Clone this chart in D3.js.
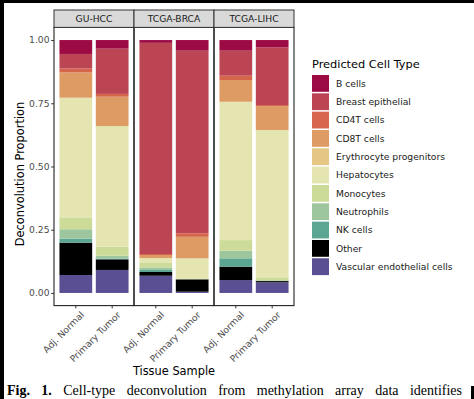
<!DOCTYPE html>
<html>
<head>
<meta charset="utf-8">
<script src="https://cdn.jsdelivr.net/npm/d3@7"></script>
<style>
  html, body { margin: 0; padding: 0; background: #fff; }
  svg { display: block; font-family: "DejaVu Sans", sans-serif; }
</style>
</head>
<body>
<svg id="chart" width="474" height="399"></svg>
<script>
// ---- data ----
const datasets = ["GU-HCC", "TCGA-BRCA", "TCGA-LIHC"];
const samples = ["Adj. Normal", "Primary Tumor"];
const cellTypes = ["B cells", "Breast epithelial", "CD4T cells", "CD8T cells",
  "Erythrocyte progenitors", "Hepatocytes", "Monocytes", "Neutrophils",
  "NK cells", "Other", "Vascular endothelial cells"];
const cellColors = ["#9c0b44", "#bb4553", "#d5654b", "#de9b63", "#e5c685",
  "#e4e5b1", "#cddb98", "#9dc69f", "#5ba693", "#000000", "#5a4f92"];
// order of each value list: GU-HCC Adj, GU-HCC Tumor, BRCA Adj, BRCA Tumor, LIHC Adj, LIHC Tumor
const bCells        = [0.055, 0.034, 0.011, 0.042, 0.042, 0.029];
const breastEpi     = [0.057, 0.179, 0.835, 0.722, 0.099, 0.228];
const cd4t          = [0.016, 0.011, 0.004, 0.014, 0.017, 0.005];
const cd8t          = [0.100, 0.116, 0.012, 0.085, 0.086, 0.094];
const erythro       = [0.000, 0.000, 0.000, 0.000, 0.000, 0.000];
const hepatocytes   = [0.473, 0.477, 0.017, 0.080, 0.547, 0.582];
const monocytes     = [0.047, 0.036, 0.020, 0.003, 0.042, 0.012];
const neutrophils   = [0.037, 0.011, 0.010, 0.000, 0.030, 0.003];
const nkCells       = [0.016, 0.003, 0.008, 0.000, 0.033, 0.000];
const other         = [0.128, 0.042, 0.015, 0.049, 0.053, 0.005];
const vascular      = [0.071, 0.091, 0.068, 0.005, 0.051, 0.042];
const yTicks = [0, 0.25, 0.5, 0.75, 1];
const yTickLabels = ["0.00", "0.25", "0.50", "0.75", "1.00"];
const captionBold = ["Fig.", "1."];
const captionWords = ["Cell-type", "deconvolution", "from", "methylation", "array", "data", "identifies"];

const seriesValues = [bCells, breastEpi, cd4t, cd8t, erythro, hepatocytes,
  monocytes, neutrophils, nkCells, other, vascular];

// build rows
const rows = [];
datasets.forEach((ds, di) => samples.forEach((s, si) => {
  const r = { dataset: ds, sample: s };
  cellTypes.forEach((c, ci) => r[c] = seriesValues[ci][di * 2 + si]);
  rows.push(r);
}));

const svg = d3.select("#chart");

// scan border remnants
svg.append("rect").attr("x", 0).attr("y", 0).attr("width", 474).attr("height", 3).attr("fill", "#000");
svg.append("rect").attr("x", 0).attr("y", 0).attr("width", 4).attr("height", 399).attr("fill", "#000");
svg.append("rect").attr("x", 471).attr("y", 386).attr("width", 3).attr("height", 13).attr("fill", "#000");

const panelLeft = 54, panelW = 80;
const y = d3.scaleLinear().domain([-0.05, 1.05]).range([305.6, 27.4]);
const panelTop = y(1.05), panelBottom = y(-0.05);
const stripTop = 10;

const fx = d3.scaleBand().domain(datasets).range([panelLeft, panelLeft + panelW * datasets.length]);
const x = d3.scaleBand().domain(samples).range([0, panelW]).paddingInner(0.1).paddingOuter(0.15);
const color = d3.scaleOrdinal().domain(cellTypes).range(cellColors);

const stack = d3.stack().keys(cellTypes.slice().reverse());

datasets.forEach(ds => {
  const g = svg.append("g").attr("transform", `translate(${fx(ds)},0)`);
  const dsRows = rows.filter(r => r.dataset === ds);
  const stacked = stack(dsRows);
  g.selectAll("g.layer").data(stacked).join("g")
    .attr("fill", d => color(d.key))
    .selectAll("rect").data(d => d).join("rect")
    .attr("x", d => x(d.data.sample))
    .attr("width", x.bandwidth())
    .attr("y", d => y(d[1]))
    .attr("height", d => Math.max(0, y(d[0]) - y(d[1])));

  // panel border
  g.append("rect").attr("x", 0).attr("y", panelTop).attr("width", panelW)
    .attr("height", panelBottom - panelTop).attr("fill", "none")
    .attr("stroke", "#222").attr("stroke-width", 1.1);
  // strip
  g.append("rect").attr("x", 0).attr("y", stripTop).attr("width", panelW)
    .attr("height", panelTop - stripTop).attr("fill", "#d9d9d9")
    .attr("stroke", "#333").attr("stroke-width", 1);
  g.append("text").attr("x", panelW / 2).attr("y", (stripTop + panelTop) / 2)
    .attr("dy", "0.36em").attr("text-anchor", "middle")
    .attr("font-size", 9.2).attr("fill", "#1a1a1a").text(ds);

  // x axis
  const xa = g.append("g").attr("transform", `translate(0,${panelBottom})`)
    .call(d3.axisBottom(x).tickSize(2.8).tickSizeOuter(0));
  xa.select(".domain").remove();
  xa.selectAll(".tick line").attr("stroke", "#333");
  xa.selectAll(".tick text")
    .attr("font-size", 9.2).attr("fill", "#4d4d4d")
    .attr("font-family", "DejaVu Sans, sans-serif")
    .attr("text-anchor", "end")
    .attr("y", 0).attr("dy", "0.75em")
    .attr("transform", "translate(4,5) rotate(-45)");
});

// y axis
const ya = svg.append("g").attr("transform", `translate(${panelLeft},0)`)
  .call(d3.axisLeft(y).tickValues(yTicks).tickFormat((d, i) => yTickLabels[i]).tickSize(2.8));
ya.select(".domain").remove();
ya.selectAll(".tick line").attr("stroke", "#333");
ya.selectAll(".tick text").attr("font-size", 9.2).attr("fill", "#4d4d4d")
  .attr("font-family", "DejaVu Sans, sans-serif").attr("x", -4.5);

// axis titles
svg.append("text").attr("x", 174).attr("y", 375).attr("text-anchor", "middle")
  .attr("font-size", 11.4).attr("fill", "#000").text("Tissue Sample");
svg.append("text").attr("transform", "translate(24,174) rotate(-90)")
  .attr("text-anchor", "middle").attr("font-size", 11.4).attr("fill", "#000")
  .text("Deconvolution Proportion");

// legend
const lg = svg.append("g").attr("transform", "translate(312,0)");
lg.append("text").attr("x", 0).attr("y", 68).attr("font-size", 11.35).attr("fill", "#000")
  .text("Predicted Cell Type");
const keyStep = 18.33;
cellTypes.forEach((c, i) => {
  const ky = 75 + i * keyStep;
  lg.append("rect").attr("x", 0).attr("y", ky).attr("width", 17).attr("height", 16.8)
    .attr("fill", color(c));
  lg.append("text").attr("x", 24).attr("y", ky + 8.4).attr("dy", "0.36em")
    .attr("font-size", 9.2).attr("fill", "#1a1a1a").text(c);
});

// caption (justified line at the bottom edge)
const cap = svg.append("g").attr("font-family", "Liberation Serif, Times New Roman, serif")
  .attr("font-size", 14).attr("fill", "#000");
const words = captionBold.map(t => ({ t, b: true })).concat(captionWords.map(t => ({ t, b: false })));
const nodes = words.map(w => cap.append("text").attr("y", 395.3).attr("font-weight", w.b ? "bold" : "normal").text(w.t));
const widths = nodes.map(n => n.node().getComputedTextLength());
const x0 = 7, x1 = 462;
const gap = (x1 - x0 - d3.sum(widths)) / (nodes.length - 1);
let cx = x0;
nodes.forEach((n, i) => { n.attr("x", cx); cx += widths[i] + gap; });
</script>
</body>
</html>
